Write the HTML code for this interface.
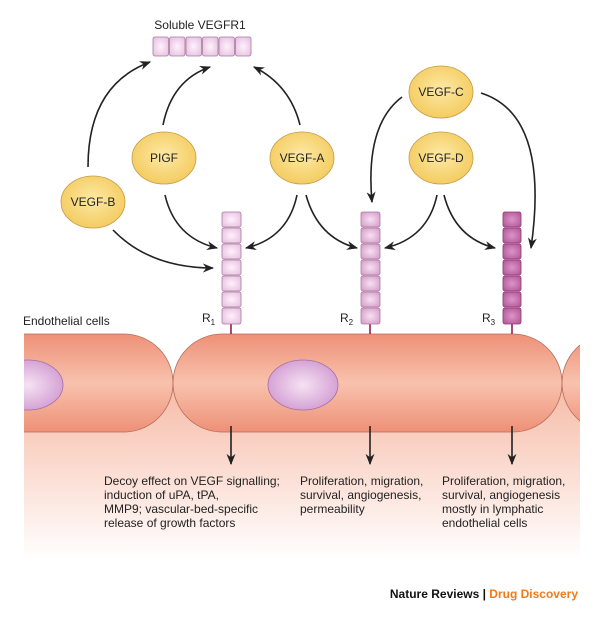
<!DOCTYPE html>
<html><head><meta charset="utf-8"><style>
body{margin:0;background:#fff;}
svg{display:block;font-family:"Liberation Sans",sans-serif;}
</style></head><body>
<svg width="600" height="621" viewBox="0 0 600 621" xmlns="http://www.w3.org/2000/svg">
<defs>
<radialGradient id="yel" cx="50%" cy="45%" r="60%"><stop offset="0" stop-color="#fde9a6"/><stop offset="1" stop-color="#f3c95a"/></radialGradient>
<radialGradient id="pk1" cx="50%" cy="50%" r="60%"><stop offset="0" stop-color="#fdf2fb"/><stop offset="1" stop-color="#e9c2e2"/></radialGradient>
<radialGradient id="pk2" cx="50%" cy="50%" r="60%"><stop offset="0" stop-color="#f6e0f1"/><stop offset="1" stop-color="#d9a0cd"/></radialGradient>
<radialGradient id="pk3" cx="50%" cy="50%" r="60%"><stop offset="0" stop-color="#dc94c8"/><stop offset="1" stop-color="#b55a98"/></radialGradient>
<linearGradient id="cell" x1="0" y1="0" x2="0" y2="1"><stop offset="0" stop-color="#ee9077"/><stop offset="0.5" stop-color="#f8c2ad"/><stop offset="1" stop-color="#ee9077"/></linearGradient>
<radialGradient id="nuc" cx="50%" cy="50%" r="60%"><stop offset="0" stop-color="#f6e2f4"/><stop offset="1" stop-color="#cf96cf"/></radialGradient>
<linearGradient id="bg" x1="0" y1="0" x2="0" y2="1"><stop offset="0" stop-color="#f6b9a4"/><stop offset="1" stop-color="#ffffff"/></linearGradient>
<marker id="ah" viewBox="0 0 10 10" refX="9" refY="5" markerWidth="7" markerHeight="7" orient="auto"><path d="M0,1 L10,5 L0,9 L3,5 Z" fill="#222"/></marker>
<clipPath id="clp"><rect x="24" y="300" width="556" height="300"/></clipPath>
</defs>

<text x="200" y="29" font-size="12" text-anchor="middle" fill="#222">Soluble VEGFR1</text>
<g fill="url(#pk1)" stroke="#a77a9f" stroke-width="0.8">
<rect x="153" y="37" width="15.5" height="19" rx="2"/><rect x="169.5" y="37" width="15.5" height="19" rx="2"/><rect x="186" y="37" width="15.5" height="19" rx="2"/><rect x="202.5" y="37" width="15.5" height="19" rx="2"/><rect x="219" y="37" width="15.5" height="19" rx="2"/><rect x="235.5" y="37" width="15.5" height="19" rx="2"/>
</g>

<!-- background & cells -->
<g clip-path="url(#clp)">
<rect x="24" y="380" width="556" height="180" fill="url(#bg)"/>
<rect x="-100" y="334" width="273" height="98" rx="49" fill="url(#cell)" stroke="#b86a58" stroke-width="0.8"/>
<rect x="173" y="334" width="389" height="98" rx="49" fill="url(#cell)" stroke="#b86a58" stroke-width="0.8"/>
<rect x="562" y="334" width="200" height="98" rx="49" fill="url(#cell)" stroke="#b86a58" stroke-width="0.8"/>
<ellipse cx="28" cy="385" rx="35" ry="25" fill="url(#nuc)" stroke="#a070a0" stroke-width="0.8"/>
</g>
<ellipse cx="303" cy="385" rx="35" ry="25" fill="url(#nuc)" stroke="#a070a0" stroke-width="0.8"/>
<text x="23" y="325" font-size="12" fill="#222">Endothelial cells</text>

<!-- stems -->
<g stroke="#8a1040" stroke-width="1.5"><line x1="231" y1="324" x2="231" y2="334"/><line x1="370" y1="324" x2="370" y2="334"/><line x1="512" y1="324" x2="512" y2="334"/></g>

<!-- receptors -->
<g stroke="#a77a9f" stroke-width="0.8">
<g fill="url(#pk1)"><rect x="222" y="212" width="19" height="15" rx="2"/><rect x="222" y="228" width="19" height="15" rx="2"/><rect x="222" y="244" width="19" height="15" rx="2"/><rect x="222" y="260" width="19" height="15" rx="2"/><rect x="222" y="276" width="19" height="15" rx="2"/><rect x="222" y="292" width="19" height="15" rx="2"/><rect x="222" y="308" width="19" height="16" rx="2"/></g>
<g fill="url(#pk2)"><rect x="361" y="212" width="19" height="15" rx="2"/><rect x="361" y="228" width="19" height="15" rx="2"/><rect x="361" y="244" width="19" height="15" rx="2"/><rect x="361" y="260" width="19" height="15" rx="2"/><rect x="361" y="276" width="19" height="15" rx="2"/><rect x="361" y="292" width="19" height="15" rx="2"/><rect x="361" y="308" width="19" height="16" rx="2"/></g>
<g fill="url(#pk3)" stroke="#8a3a78"><rect x="503" y="212" width="18" height="15" rx="2"/><rect x="503" y="228" width="18" height="15" rx="2"/><rect x="503" y="244" width="18" height="15" rx="2"/><rect x="503" y="260" width="18" height="15" rx="2"/><rect x="503" y="276" width="18" height="15" rx="2"/><rect x="503" y="292" width="18" height="15" rx="2"/><rect x="503" y="308" width="18" height="16" rx="2"/></g>
</g>
<g font-size="12" fill="#222">
<text x="202" y="322">R<tspan font-size="8" dy="3">1</tspan></text>
<text x="340" y="322">R<tspan font-size="8" dy="3">2</tspan></text>
<text x="482" y="322">R<tspan font-size="8" dy="3">3</tspan></text>
</g>

<!-- ligands -->
<g fill="url(#yel)" stroke="#c49a4a" stroke-width="0.8">
<ellipse cx="441" cy="92" rx="32" ry="26"/>
<ellipse cx="441" cy="158" rx="32" ry="26"/>
<ellipse cx="302" cy="158" rx="32" ry="26"/>
<ellipse cx="164" cy="158" rx="32" ry="26"/>
<ellipse cx="93" cy="202" rx="32" ry="26"/>
</g>
<g font-size="12" fill="#222" text-anchor="middle">
<text x="441" y="96">VEGF-C</text><text x="441" y="162">VEGF-D</text><text x="302" y="162">VEGF-A</text><text x="164" y="162">PIGF</text><text x="93" y="206">VEGF-B</text>
</g>

<!-- arrows -->
<g fill="none" stroke="#222" stroke-width="1.6" marker-end="url(#ah)">
<path d="M88,167 Q88,85 150,62"/>
<path d="M163,125 Q172,80 210,67"/>
<path d="M300,125 Q290,85 254,67"/>
<path d="M113,230 Q150,268 213,268"/>
<path d="M165,195 Q175,238 217,248"/>
<path d="M297,195 Q288,238 246,248"/>
<path d="M306,195 Q318,238 357,248"/>
<path d="M402,97 Q365,125 372,202"/>
<path d="M437,195 Q428,238 385,248"/>
<path d="M444,195 Q455,238 495,248"/>
<path d="M481,93 Q550,115 531,248"/>
<path d="M231,426 L231,464"/>
<path d="M370,426 L370,464"/>
<path d="M512,426 L512,464"/>
</g>

<g font-size="12" fill="#222">
<text x="104" y="485">Decoy effect on VEGF signalling;</text>
<text x="104" y="499">induction of uPA, tPA,</text>
<text x="104" y="513">MMP9; vascular-bed-specific</text>
<text x="104" y="527">release of growth factors</text>
<text x="300" y="485">Proliferation, migration,</text>
<text x="300" y="499">survival, angiogenesis,</text>
<text x="300" y="513">permeability</text>
<text x="442" y="485">Proliferation, migration,</text>
<text x="442" y="499">survival, angiogenesis</text>
<text x="442" y="513">mostly in lymphatic</text>
<text x="442" y="527">endothelial cells</text>
</g>
<text x="578" y="598" font-size="12" font-weight="bold" text-anchor="end" fill="#111">Nature Reviews | <tspan fill="#f07a1a">Drug Discovery</tspan></text>
</svg>
</body></html>
